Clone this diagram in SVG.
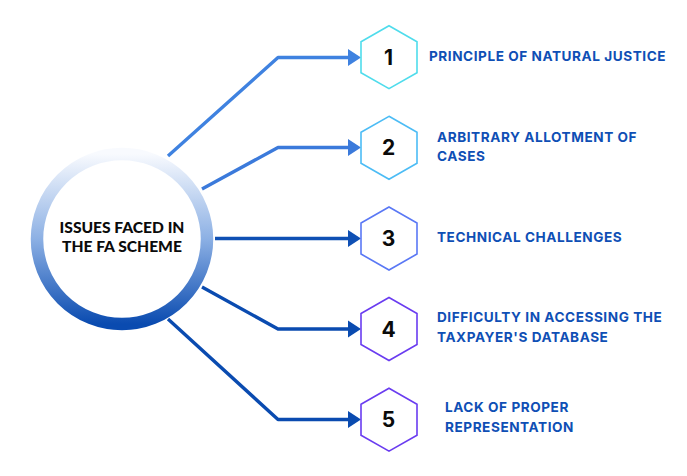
<svg xmlns="http://www.w3.org/2000/svg" width="687" height="476" viewBox="0 0 687 476">
<style>
.hex{fill:#fff;stroke-width:1.6;stroke-linejoin:miter}
.num{font-family:"Inter","Liberation Sans",sans-serif;font-weight:700;font-size:21px;fill:#0b0b0b;text-anchor:middle}
.lab{font-family:"Inter","Liberation Sans",sans-serif;font-weight:700;font-size:13.6px;fill:#0f4fb5;letter-spacing:.55px}
.ttl{font-family:"Lato","Liberation Sans",sans-serif;font-weight:900;font-size:15.6px;fill:#0b0b0b;text-anchor:middle}
.con{fill:none;stroke-width:3.4;stroke-linejoin:round}
</style>
<defs>
<linearGradient id="ring" x1="0" y1="0" x2="0" y2="1">
<stop offset="0" stop-color="#f8fafe"/><stop offset=".5" stop-color="#8cb0e4"/><stop offset="1" stop-color="#0a4bb0"/>
</linearGradient>
<polygon id="hx" points="0,-31.5 28,-15.5 28,15.5 0,31.5 -28,15.5 -28,-15.5"/>
</defs>
<rect width="687" height="476" fill="#fff"/>
<g id="connectors">
<path class="con" stroke="#3f82e0" d="M168,156 L278,57.500 H350"/><polygon fill="#3f82e0" points="348,49 361,57.500 348,66"/>
<path class="con" stroke="#3b7adb" d="M202,189 L278,147.500 H350"/><polygon fill="#3b7adb" points="348,139 361,147.500 348,156"/>
<path class="con" stroke="#0f50b4" d="M215,238.500 H350"/><polygon fill="#0f50b4" points="348,230 361,238.500 348,247"/>
<path class="con" stroke="#0a4bb0" d="M202,287 L278,329 H350"/><polygon fill="#0a4bb0" points="348,320.500 361,329 348,337.500"/>
<path class="con" stroke="#0a4bb0" d="M168,319 L278,419.500 H350"/><polygon fill="#0a4bb0" points="348,411 361,419.500 348,428"/>
</g>
<g id="center"><circle cx="122" cy="239" r="85" fill="#fff" stroke="url(#ring)" stroke-width="12.500"/>
<text class="ttl" x="122" y="232.700">ISSUES FACED IN</text><text class="ttl" x="122" y="251.500">THE FA SCHEME</text></g>
<g id="n1"><use href="#hx" x="389" y="57.200" class="hex" stroke="#4fdcec"/><text class="num" x="388.500" y="64.700">1</text><text class="lab" x="429" y="61.200">PRINCIPLE OF NATURAL JUSTICE</text></g>
<g id="n2"><use href="#hx" x="389" y="147.800" class="hex" stroke="#4cbcf5"/><text class="num" x="388.500" y="155.200">2</text><text class="lab" x="437" y="142.200">ARBITRARY ALLOTMENT OF</text><text class="lab" x="437" y="161.200">CASES</text></g>
<g id="n3"><use href="#hx" x="389" y="238.500" class="hex" stroke="#5a78f5"/><text class="num" x="388.500" y="246">3</text><text class="lab" x="437" y="242.200">TECHNICAL CHALLENGES</text></g>
<g id="n4"><use href="#hx" x="389" y="329" class="hex" stroke="#6a3cf0"/><text class="num" x="388.500" y="336.500">4</text><text class="lab" x="437" y="322.200">DIFFICULTY IN ACCESSING THE</text><text class="lab" x="437" y="342.200">TAXPAYER'S DATABASE</text></g>
<g id="n5"><use href="#hx" x="389" y="419.700" class="hex" stroke="#6a3cf0"/><text class="num" x="388.500" y="427.200">5</text><text class="lab" x="445" y="412.200">LACK OF PROPER</text><text class="lab" x="445" y="432.200">REPRESENTATION</text></g>
</svg>
